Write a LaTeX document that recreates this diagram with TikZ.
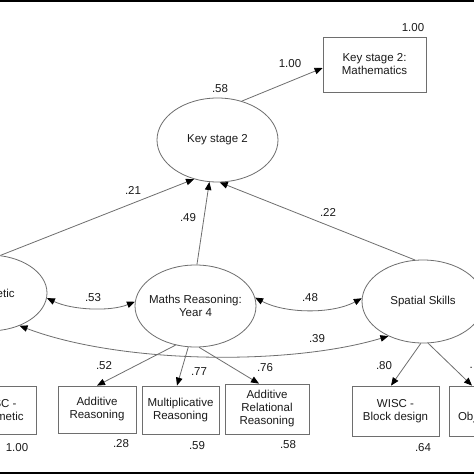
\documentclass[tikz,border=0pt]{standalone}
\usepackage{fontspec}
\setmainfont{Liberation Sans}
\usetikzlibrary{shapes.geometric,arrows.meta}
\definecolor{ln}{HTML}{6E6E6E}
\definecolor{tx}{HTML}{1A1A1A}
\begin{document}
\begin{tikzpicture}[x=1bp,y=-1bp,
  font=\fontsize{11.5bp}{13bp}\selectfont, text=tx,
  lat/.style={ellipse,draw=ln,line width=0.8bp,inner sep=0pt},
  obs/.style={rectangle,draw=ln,line width=0.8bp,inner sep=0pt,align=center},
  ttl/.style={align=center,inner sep=0pt},
  reg/.style={draw=ln,line width=0.8bp,-{Triangle[length=8bp,width=6.5bp,color=black]}},
  cov/.style={draw=ln,line width=0.8bp,{Triangle[length=8bp,width=6.5bp,color=black]}-{Triangle[length=8bp,width=6.5bp,color=black]}},
  lbl/.style={inner sep=0pt}]
\useasboundingbox (0,0) rectangle (474,474);
\clip (0,0) rectangle (474,474);
\fill[white] (0,0) rectangle (474,474);
\fill[black] (0,0) rectangle (474,2.5);
\fill[black] (0,471.5) rectangle (474,474);

% latent variables
\node[lat,minimum width=121bp,minimum height=84bp] (ks2) at (217.5,140) {};
\node[ttl] (ks2t) at (ks2) {Key stage 2};
\node[lat,minimum width=116bp,minimum height=76bp] (arith) at (-11,293) {};
\node[ttl] (aritht) at (arith) {Arithmetic};
\node[lat,minimum width=121bp,minimum height=82bp] (mr) at (195.5,306) {};
\node[ttl] (mrt) at (mr) {Maths Reasoning:\\Year 4};
\node[lat,minimum width=122bp,minimum height=83bp] (sp) at (423,301.5) {};
\node[ttl] (spt) at (sp) {Spatial Skills};

% observed variables
\node[obs,minimum width=103bp,minimum height=55bp] (ks2m) at (374.5,64.5) {Key stage 2:\\Mathematics};
\node[obs,minimum width=76bp,minimum height=48bp] (wa) at (-2,410) {WISC -\\Arithmetic};
\node[obs,minimum width=78bp,minimum height=47bp] (ar) at (97,409.5) {Additive\\Reasoning};
\node[obs,minimum width=77bp,minimum height=48bp] (mu) at (180.5,410) {Multiplicative\\Reasoning};
\node[obs,minimum width=84bp,minimum height=50bp] (arr) at (267,409) {Additive\\Relational\\Reasoning};
\node[obs,minimum width=87bp,minimum height=50bp] (wb) at (395.5,411) {WISC -\\Block design};
\node[obs,minimum width=103bp,minimum height=50bp] (ob) at (500.5,411) {WISC -\\Object assembly};

% structural paths
\draw[reg] (ks2.58) -- ([yshift=-3.5bp]ks2m.west);
\draw[reg] (arith.73) -- (ks2.239);
\draw[reg] (mr.88) -- (ks2.259);
\draw[reg] (sp.101) -- (ks2.273);

% covariances
\draw[cov] (arith.-5) .. controls +(25,12) and +(-25,10) .. (mr.176);
\draw[cov] (mr.8) .. controls +(30,16) and +(-30,16) .. (sp.177);
\draw[cov] (arith.-47) .. controls +(100,38) and +(-100,30) .. (sp.225);

% loadings
\draw[reg] (mr.243) -- (ar.north);
\draw[reg] (mr.260) -- ([xshift=-3.5bp]mu.north);
\draw[reg] (mr.275) -- ([xshift=-8bp]arr.north);
\draw[reg] (sp.267) -- ([xshift=-4.5bp]wb.north);
\draw[reg] (sp.277) -- ([xshift=-28.5bp]ob.north);

% labels
\node[lbl] (l1) at (413,28) {1.00};
\node[lbl] (l2) at (220,89) {.58};
\node[lbl] (l3) at (290,64) {1.00};
\node[lbl] (l4) at (133,190) {.21};
\node[lbl] (l5) at (188,218) {.49};
\node[lbl] (l6) at (328,212) {.22};
\node[lbl] (l7) at (93,298) {.53};
\node[lbl] (l8) at (310,298) {.48};
\node[lbl] (l9) at (317,339) {.39};
\node[lbl] (l10) at (104,366) {.52};
\node[lbl] (l11) at (199,372) {.77};
\node[lbl] (l12) at (265,368) {.76};
\node[lbl] (l13) at (384,366) {.80};
\node[lbl,anchor=west] (l14) at (469.5,368) {.};
\node[lbl] (l15) at (17,448) {1.00};
\node[lbl] (l16) at (121,444) {.28};
\node[lbl] (l17) at (197,446) {.59};
\node[lbl] (l18) at (288,445) {.58};
\node[lbl] (l19) at (423,448) {.64};
\end{tikzpicture}
\end{document}
